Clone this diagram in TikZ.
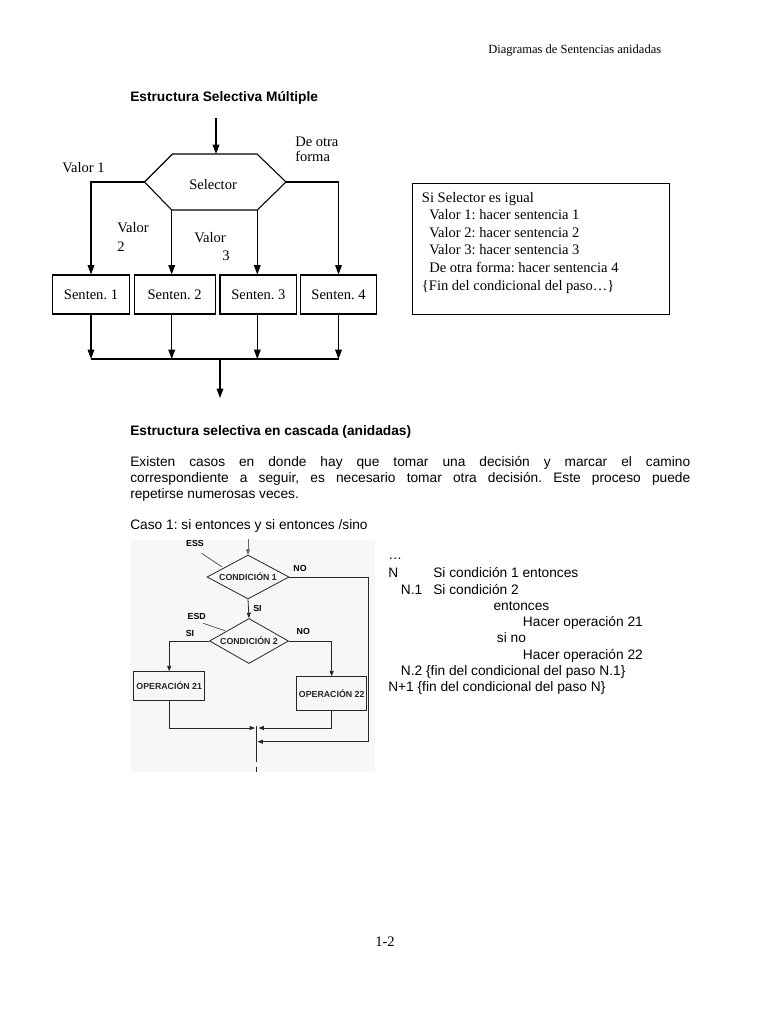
\documentclass[tikz,border=0pt]{standalone}
\usepackage{fontspec}
\setmainfont{Liberation Serif}
\setsansfont{Liberation Sans}
\usetikzlibrary{arrows.meta,shapes.geometric}
\frenchspacing
\begin{document}
\begin{tikzpicture}[x=0.75pt,y=-0.75pt,
  ser/.style={font=\fontsize{10.9}{13}\selectfont, inner sep=0pt},
  tb/.style={ser, anchor=base west},
  sn/.style={font=\sffamily\fontsize{10.3}{12.2}\selectfont, inner sep=0pt, anchor=base west},
  hd/.style={font=\sffamily\bfseries\fontsize{10.3}{12.2}\selectfont, inner sep=0pt, anchor=base west},
  sbox/.style={draw, line width=0.8pt, ser, minimum height=29.25pt},
  ln/.style={line width=0.8pt},
  arr/.style={ln, -{Stealth[length=7pt,width=5pt,inset=0pt]}},
  sm/.style={font=\sffamily\bfseries\fontsize{6.6}{7.5}\selectfont, inner sep=0pt},
  sln/.style={line width=0.6pt, black!85},
  sarr/.style={sln, -{Stealth[length=4pt,width=3pt,inset=0pt]}},
  dia/.style={diamond, draw, sln, aspect=2, inner sep=0pt, sm},
  obox/.style={draw, sln, sm, minimum width=53.5pt}
]
\useasboundingbox (0,0) rectangle (768,1024);
\fill[white] (0,0) rectangle (768,1024);

% header and footer
\node[font=\fontsize{9.4}{11}\selectfont, inner sep=0pt, anchor=base west] (hdr) at (488,54) {Diagramas de Sentencias anidadas};
\node[tb] (pg) at (375,946.5) {1-2};

% ---------- Estructura Selectiva Multiple ----------
\node[hd] (t1) at (130,101) {Estructura Selectiva Múltiple};

\coordinate (hL) at (144.5,182);
\coordinate (hR) at (286,182);
\coordinate (hTL) at (172.5,154);
\coordinate (hTR) at (257,154);
\coordinate (hBL) at (171.7,210);
\coordinate (hBR) at (257.3,210);
\coordinate (hTop) at (216,154);
\coordinate (hIn) at (216,118);
\draw[ln] (hL) -- (hTL) -- (hTR) -- (hR) -- (hBR) -- (hBL) -- cycle;
\node[tb] (sel) at (189,189) {Selector};
\draw[arr] (hIn) -- (hTop);

\node[sbox, minimum width=57.5pt] (s1) at (91,294.5) {Senten. 1};
\node[sbox, minimum width=60.5pt] (s2) at (174.7,294.5) {Senten. 2};
\node[sbox, minimum width=57.5pt] (s3) at (258.3,294.5) {Senten. 3};
\node[sbox, minimum width=57pt] (s4) at (338.5,294.5) {Senten. 4};

\draw[arr] (hL) -| (s1.north);
\draw[arr] (hR) -| (s4.north);
\draw[arr] (hBL) -- (hBL |- s2.north);
\draw[arr] (hBR) -- (hBR |- s3.north);

\node[tb] (v1) at (62,172) {Valor 1};
\node[tb] (dof1) at (295,146) {De otra};
\node[tb] (dof2) at (295,161.5) {forma};
\node[tb] (v2a) at (117,232) {Valor};
\node[tb] (v2b) at (117,251.5) {2};
\node[tb] (v3a) at (194,242) {Valor};
\node[tb] (v3b) at (222,260) {3};

\coordinate (jn) at (220,359);
\coordinate (out) at (220,398);
\draw[arr] (s1.south) -- (s1.south |- jn);
\draw[arr] (hBL |- s2.south) -- (hBL |- jn);
\draw[arr] (hBR |- s3.south) -- (hBR |- jn);
\draw[arr] (s4.south) -- (s4.south |- jn);
\draw[ln] (s1.south |- jn) -- (s4.south |- jn);
\draw[arr] (jn) -- (out);

% pseudo-code box
\node[draw, line width=0.8pt, minimum width=193.2pt, minimum height=98.5pt, anchor=north west, inner sep=0pt] (cbox) at (411.7,182.7) {};
\node[tb] (c1) at (421.7,202) {Si Selector es igual};
\node[tb] (c2) at (429,219.6) {Valor 1: hacer sentencia 1};
\node[tb] (c3) at (429,237.2) {Valor 2: hacer sentencia 2};
\node[tb] (c4) at (429,254.8) {Valor 3: hacer sentencia 3};
\node[tb] (c5) at (429,272.4) {De otra forma: hacer sentencia 4};
\node[tb] (c6) at (421.7,290) {\{Fin del condicional del paso…\}};

% ---------- Estructura selectiva en cascada ----------
\node[hd] (t2) at (130,435) {Estructura selectiva en cascada (anidadas)};
\node[sn] (p1) at (130,466) {\hbox to 420pt{Existen casos en donde hay que tomar una decisión y marcar el camino}};
\node[sn] (p2) at (130,482.3) {\hbox to 420pt{correspondiente a seguir, es necesario tomar otra decisión. Este proceso puede}};
\node[sn] (p3) at (130,498.3) {repetirse numerosas veces.};
\node[sn] (caso) at (130,529) {Caso 1: si entonces y si entonces /sino};

% right pseudo-code
\node[sn] (r0) at (388,559) {…};
\node[sn] (r1a) at (388,577.7) {N};
\node[sn] (r1b) at (433,577.7) {Si condición 1 entonces};
\node[sn] (r2a) at (400.7,594) {N.1};
\node[sn] (r2b) at (433,594) {Si condición 2};
\node[sn] (r3) at (493.3,610.3) {entonces};
\node[sn] (r4) at (522.7,626.6) {Hacer operación 21};
\node[sn] (r5) at (496.7,642.9) {si no};
\node[sn] (r6) at (522.7,659.2) {Hacer operación 22};
\node[sn] (r7) at (400.7,675.5) {N.2 \{fin del condicional del paso N.1\}};
\node[sn] (r8) at (388,691.8) {N+1 \{fin del condicional del paso N\}};

% small flowchart (image)
\fill[black!3] (130,540) rectangle (375,772);
\node[dia, minimum width=61.5pt, minimum height=33pt] (d1) at (248,577) {CONDICIÓN 1};
\node[dia, minimum width=59.3pt, minimum height=33.8pt] (d2) at (249,641) {CONDICIÓN 2};
\node[obox, minimum height=21.2pt] (o21) at (169.2,685.8) {OPERACIÓN 21};
\node[obox, minimum width=52.5pt, minimum height=25pt] (o22) at (331.7,693.3) {OPERACIÓN 22};

\node[sm] (ess) at (195,543.3) {ESS};
\node[sm] (esd) at (196.7,616.7) {ESD};
\node[sm] (no1) at (300,568.3) {NO};
\node[sm] (si1) at (257.5,608.3) {SI};
\node[sm] (si2) at (190,633.3) {SI};
\node[sm] (no2) at (303.3,631.7) {NO};

\coordinate (essA) at (201.7,553.3);
\coordinate (essB) at (221.7,566.7);
\coordinate (esdA) at (203.3,623.3);
\coordinate (esdB) at (225,630.7);
\draw[sln, line width=0.4pt] (essA) -- (essB);
\draw[sln, line width=0.4pt] (esdA) -- (esdB);

\coordinate (cin) at (248,539);
\draw[sarr, line width=0.4pt, black!60] (cin) -- (d1.north);
\draw[sarr] (d1.south) -- (d2.north);
\draw[sarr] (d2.west) -| (o21.north);
\draw[sarr] (d2.east) -| (o22.north);

\coordinate (rNO) at (368,741.7);
\coordinate (mNO) at (257.5,741.7);
\coordinate (mL) at (255,728);
\coordinate (mR) at (258.5,728);
\coordinate (mTop) at (256.7,726);
\coordinate (mBot) at (256.7,755);
\coordinate (mEnd) at (256.7,772);
\draw[sln] (d1.east) -| (rNO);
\draw[sarr] (rNO) -- (mNO);
\draw[sarr] (o21.south) |- (mL);
\draw[sarr] (o22.south) |- (mR);
\draw[sln] (mTop) -- (mBot);
\draw[sln, dash pattern=on 5pt off 4pt] (mBot) -- (mEnd);
\end{tikzpicture}
\end{document}
